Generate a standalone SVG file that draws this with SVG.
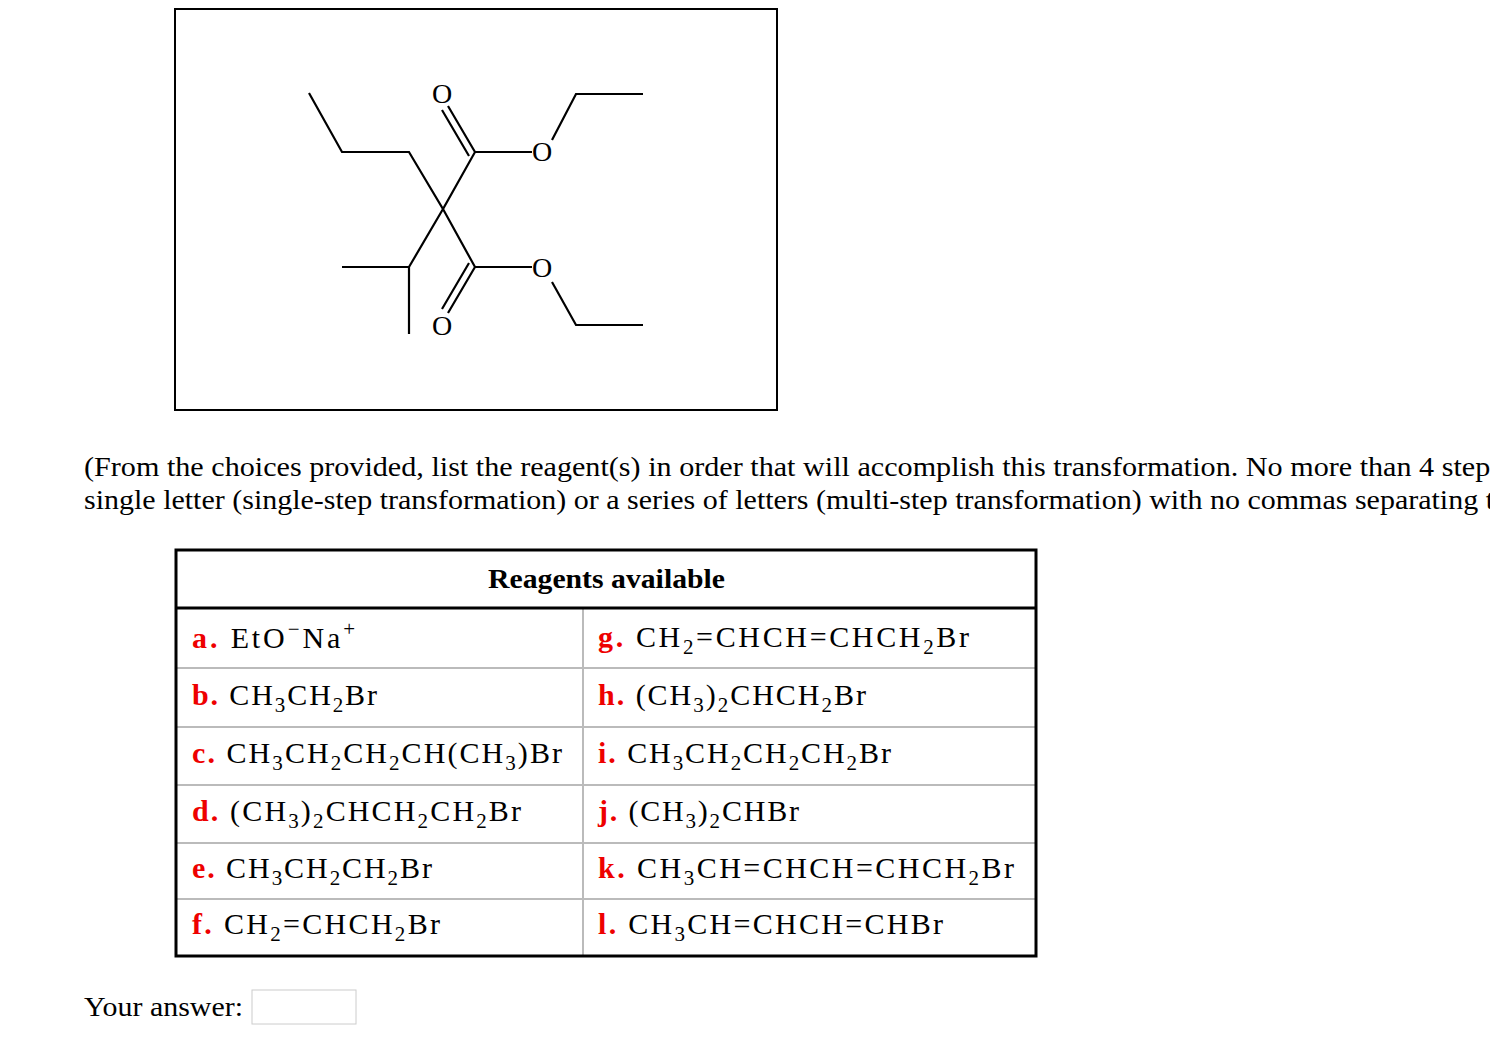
<svg xmlns="http://www.w3.org/2000/svg" width="1490" height="1042" viewBox="0 0 1490 1042">
<style>
text{font-family:"Liberation Serif","Times New Roman",serif;fill:#000}
.b{stroke:#000;stroke-width:2.2;fill:none}
.at{font-size:28px;text-anchor:middle}
.q{font-size:28px}
.r{font-size:30px}
.l{fill:#e00;font-weight:bold}
.s{font-size:21px}
.g{stroke:#bbb;stroke-width:2}
</style>
<rect width="1490" height="1042" fill="#fff"/>
<rect x="175" y="9" width="602" height="401" fill="none" stroke="#000" stroke-width="2"/>
<g id="molecule">
<path class="b" d="M309,93 L342,152 L409,152 L443,209 L475,152 L532,152 M552,140 L576,94 L643,94 M443,209 L475,267 L532,267 M552,282 L576,325 L643,325 M443,209 L409,267 L342,267 M409,267 L409,334 M475,152 L448,106 M469,156 L442,110 M475,267 L448,313 M469,263 L442,309"/>
<text class="at" x="442" y="103">O</text>
<text class="at" x="542" y="161">O</text>
<text class="at" x="542" y="277">O</text>
<text class="at" x="442" y="335">O</text>
</g>
<text class="q" x="84" y="476" textLength="1418" lengthAdjust="spacingAndGlyphs">(From the choices provided, list the reagent(s) in order that will accomplish this transformation. No more than 4 steps</text>
<text class="q" x="84" y="509" textLength="1410" lengthAdjust="spacingAndGlyphs">single letter (single-step transformation) or a series of letters (multi-step transformation) with no commas separating t</text>
<g id="table">
<line class="g" x1="583" y1="608" x2="583" y2="956"/>
<line class="g" x1="176" y1="668" x2="1036" y2="668"/>
<line class="g" x1="176" y1="727" x2="1036" y2="727"/>
<line class="g" x1="176" y1="785" x2="1036" y2="785"/>
<line class="g" x1="176" y1="843" x2="1036" y2="843"/>
<line class="g" x1="176" y1="899" x2="1036" y2="899"/>
<line x1="176" y1="608" x2="1036" y2="608" stroke="#000" stroke-width="3"/>
<rect x="176" y="550" width="860" height="406" fill="none" stroke="#000" stroke-width="3"/>
<text x="488" y="588" font-size="28" font-weight="bold" textLength="237" lengthAdjust="spacingAndGlyphs">Reagents available</text>
<text class="r" x="192" y="648" textLength="163"><tspan class="l">a.</tspan> EtO<tspan class="s" dy="-12">−</tspan><tspan dy="12">Na</tspan><tspan class="s" dy="-12">+</tspan></text>
<text class="r" x="192" y="705" textLength="185"><tspan class="l">b.</tspan> CH<tspan class="s" dy="7">3</tspan><tspan dy="-7">CH</tspan><tspan class="s" dy="7">2</tspan><tspan dy="-7">Br</tspan></text>
<text class="r" x="192" y="763" textLength="370"><tspan class="l">c.</tspan> CH<tspan class="s" dy="7">3</tspan><tspan dy="-7">CH</tspan><tspan class="s" dy="7">2</tspan><tspan dy="-7">CH</tspan><tspan class="s" dy="7">2</tspan><tspan dy="-7">CH(CH</tspan><tspan class="s" dy="7">3</tspan><tspan dy="-7">)Br</tspan></text>
<text class="r" x="192" y="821" textLength="329"><tspan class="l">d.</tspan> (CH<tspan class="s" dy="7">3</tspan><tspan dy="-7">)</tspan><tspan class="s" dy="7">2</tspan><tspan dy="-7">CHCH</tspan><tspan class="s" dy="7">2</tspan><tspan dy="-7">CH</tspan><tspan class="s" dy="7">2</tspan><tspan dy="-7">Br</tspan></text>
<text class="r" x="192" y="878" textLength="240"><tspan class="l">e.</tspan> CH<tspan class="s" dy="7">3</tspan><tspan dy="-7">CH</tspan><tspan class="s" dy="7">2</tspan><tspan dy="-7">CH</tspan><tspan class="s" dy="7">2</tspan><tspan dy="-7">Br</tspan></text>
<text class="r" x="192" y="934" textLength="248"><tspan class="l">f.</tspan> CH<tspan class="s" dy="7">2</tspan><tspan dy="-7">=CHCH</tspan><tspan class="s" dy="7">2</tspan><tspan dy="-7">Br</tspan></text>
<text class="r" x="598" y="647" textLength="371"><tspan class="l">g.</tspan> CH<tspan class="s" dy="7">2</tspan><tspan dy="-7">=CHCH=CHCH</tspan><tspan class="s" dy="7">2</tspan><tspan dy="-7">Br</tspan></text>
<text class="r" x="598" y="705" textLength="268"><tspan class="l">h.</tspan> (CH<tspan class="s" dy="7">3</tspan><tspan dy="-7">)</tspan><tspan class="s" dy="7">2</tspan><tspan dy="-7">CHCH</tspan><tspan class="s" dy="7">2</tspan><tspan dy="-7">Br</tspan></text>
<text class="r" x="598" y="763" textLength="293"><tspan class="l">i.</tspan> CH<tspan class="s" dy="7">3</tspan><tspan dy="-7">CH</tspan><tspan class="s" dy="7">2</tspan><tspan dy="-7">CH</tspan><tspan class="s" dy="7">2</tspan><tspan dy="-7">CH</tspan><tspan class="s" dy="7">2</tspan><tspan dy="-7">Br</tspan></text>
<text class="r" x="598" y="821" textLength="201"><tspan class="l">j.</tspan> (CH<tspan class="s" dy="7">3</tspan><tspan dy="-7">)</tspan><tspan class="s" dy="7">2</tspan><tspan dy="-7">CHBr</tspan></text>
<text class="r" x="598" y="878" textLength="416"><tspan class="l">k.</tspan> CH<tspan class="s" dy="7">3</tspan><tspan dy="-7">CH=CHCH=CHCH</tspan><tspan class="s" dy="7">2</tspan><tspan dy="-7">Br</tspan></text>
<text class="r" x="598" y="934" textLength="345"><tspan class="l">l.</tspan> CH<tspan class="s" dy="7">3</tspan><tspan dy="-7">CH=CHCH=CHBr</tspan></text>
</g>
<text class="q" x="84" y="1016" textLength="159" lengthAdjust="spacingAndGlyphs">Your answer:</text>
<rect x="252" y="990" width="104" height="34" fill="#fff" stroke="#ccc" stroke-width="1"/>
</svg>
